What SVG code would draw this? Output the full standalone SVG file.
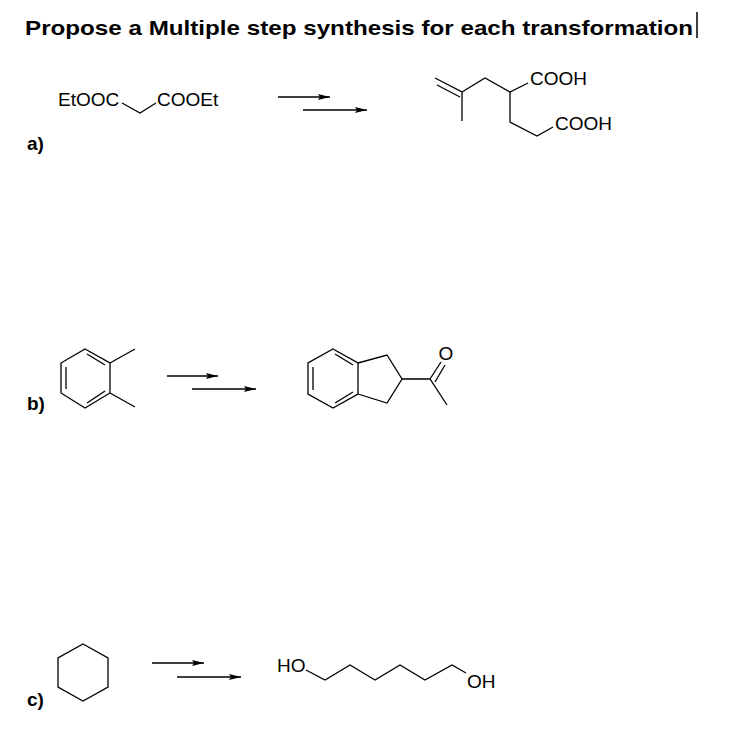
<svg xmlns="http://www.w3.org/2000/svg" width="743" height="732" viewBox="0 0 743 732">
<style>
.t{font-family:"Liberation Sans",Arial,sans-serif;font-size:19px;fill:#000}
.b{font-family:"Liberation Sans",Arial,sans-serif;font-weight:bold;fill:#000}
.s{fill:none;stroke:#000;stroke-width:1.3;stroke-linejoin:miter}
</style>
<defs><marker id="ah" markerWidth="12" markerHeight="6" refX="12" refY="3" orient="auto" markerUnits="userSpaceOnUse"><path d="M0,0 L12,3 L0,6 L2,3z" fill="#000"/></marker></defs>
<rect width="743" height="732" fill="#fff"/>
<g id="title"><text class="b" x="25" y="35" font-size="21" textLength="668" lengthAdjust="spacingAndGlyphs">Propose a Multiple step synthesis  for each transformation</text>
<line x1="697" y1="12" x2="697" y2="38" stroke="#000" stroke-width="1.5"/></g>
<g id="labels"><text class="b" x="27" y="150" font-size="19">a)</text><text class="b" x="27" y="410" font-size="19">b)</text><text class="b" x="27" y="706" font-size="19">c)</text></g>
<g id="a-reactant"><text class="t" x="58" y="106">EtOOC</text><text class="t" x="157" y="106">COOEt</text><polyline class="s" points="122,103 140,113 156,103"/></g>
<g id="a-product"><polyline class="s" points="435,78 462,92 462,121"/><line class="s" x1="437" y1="85" x2="460" y2="97"/><polyline class="s" points="462,92 485,78 510,92 528,83"/><polyline class="s" points="510,92 510,122 537,136 553,127"/><text class="t" x="530" y="85">COOH</text><text class="t" x="555" y="130">COOH</text></g>
<g id="b-reactant"><polygon class="s" points="85,349 110,363 110,393 85,408 61,393 61,363"/><line class="s" x1="66" y1="367" x2="66" y2="389"/><line class="s" x1="87" y1="354" x2="105" y2="365"/><line class="s" x1="87" y1="403" x2="105" y2="391"/><line class="s" x1="110" y1="363" x2="135" y2="349"/><line class="s" x1="110" y1="393" x2="135" y2="407"/></g>
<g id="b-product"><polygon class="s" points="333,349 358,363 358,394 333,408 308,394 308,363"/><line class="s" x1="313" y1="367" x2="313" y2="390"/><line class="s" x1="335" y1="354" x2="353" y2="365"/><line class="s" x1="335" y1="403" x2="353" y2="392"/><polyline class="s" points="358,363 387,355 402,379 387,403 358,394"/><polyline class="s" points="402,379 430,379 447,405"/><line class="s" x1="430" y1="379" x2="441" y2="362"/><line class="s" x1="435" y1="382" x2="445" y2="365"/><text class="t" x="446" y="360" text-anchor="middle">O</text></g>
<g id="c-reactant"><polygon class="s" points="83,644 108,658 108,687 83,701 58,687 58,658"/></g>
<g id="c-product"><text class="t" x="277" y="672">HO</text><polyline class="s" points="306,670 325,680 350,665 375,680 400,665 425,680 452,665 466,673"/><text class="t" x="467" y="688">OH</text></g>
<g id="connectors" stroke="#000" stroke-width="1.3">
<line x1="278" y1="97" x2="330" y2="97" marker-end="url(#ah)"/><line x1="303" y1="110" x2="367" y2="110" marker-end="url(#ah)"/>
<line x1="167" y1="376" x2="218" y2="376" marker-end="url(#ah)"/><line x1="192" y1="389" x2="256" y2="389" marker-end="url(#ah)"/>
<line x1="152" y1="663" x2="204" y2="663" marker-end="url(#ah)"/><line x1="177" y1="677" x2="241" y2="677" marker-end="url(#ah)"/>
</g>
</svg>
